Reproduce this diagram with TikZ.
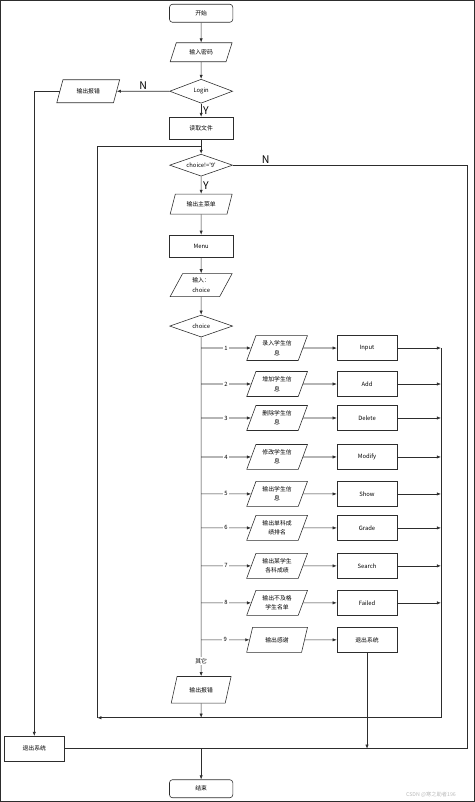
\documentclass[tikz,border=0pt]{standalone}
\usepackage{fontspec}
\setmainfont{Noto Sans CJK SC}
\usepackage{tikz}
\usetikzlibrary{arrows.meta,shapes.geometric}
\definecolor{LineaGris}{RGB}{45,45,45}

\begin{document}
\begin{tikzpicture}[x=0.03cm,y=-0.03cm,>={Latex[length=3.5pt,width=2.8pt]},
  every path/.style={draw=LineaGris,line width=0.5pt},
  every node/.style={font=\fontsize{5}{8}\selectfont,align=center,inner sep=1pt},
  term/.style={draw,rounded corners=2.5pt,minimum width=1.9cm,minimum height=0.54cm},
  proc/.style={draw,minimum width=1.92cm,minimum height=0.66cm},
  procb/.style={draw,minimum width=1.8cm,minimum height=0.75cm},
  io/.style={draw,trapezium,trapezium left angle=68,trapezium right angle=112,
    trapezium stretches=true,minimum width=1.86cm,minimum height=0.57cm},
  iob/.style={io,minimum width=1.83cm,minimum height=0.75cm},
  dec/.style={draw,diamond,aspect=2.8,inner sep=0pt,minimum width=1.89cm,minimum height=0.66cm},
  yn/.style={font=\fontsize{9}{10}\selectfont,inner sep=1pt},
  num/.style={fill=white,inner sep=1.5pt}]
  \useasboundingbox (0,0) rectangle (474,802);

  \node[term] (start) at (201,13) {开始};
  \node[io] (pwd) at (201,52) {输入密码};
  \node[dec,minimum height=0.72cm] (login) at (201,91) {Login};
  \node[io,minimum width=1.89cm,minimum height=0.69cm] (err1) at (88,91) {输出报错};
  \node[proc] (read) at (201,128) {读取文件};
  \node[dec] (loopq) at (201,165) {choice!=\textquotesingle 9\textquotesingle};
  \node[io,minimum height=0.6cm] (menuout) at (201,204) {输出主菜单};
  \node[proc] (menu) at (201,246) {Menu};
  \node[io,minimum height=0.69cm] (inchoice) at (201,285) {输入：\\choice};
  \node[dec] (choice) at (201,326) {choice};
  \node[io,minimum width=1.8cm,minimum height=0.8cm] (err2) at (201,690) {输出报错};
  \node[procb] (quit) at (34,749) {退出系统};
  \node[term] (end) at (201,789) {结束};

  \coordinate (jn) at (201,146);
  \coordinate (lt) at (97,146);
  \coordinate (lb) at (97,718);
  \coordinate (cb) at (441,718);
  \coordinate (eb) at (201,718);
  \coordinate (rt) at (467,165);
  \coordinate (rb) at (467,749);
  \coordinate (xb) at (367,749);
  \coordinate (mb) at (201,749);

  \draw[->] (start) -- (pwd);
  \draw[->] (pwd) -- (login);
  \draw[->] (login) -- node[yn,right,xshift=0.5pt]{Y} (read);
  \draw[->] (login.west) -- node[yn,above]{N} (err1.east);
  \draw[->] (err1.west) -| (quit.north);
  \draw (read.south) -- (jn);
  \draw[->] (jn) -- (loopq.north);
  \draw[->] (loopq) -- node[yn,right,xshift=0.5pt]{Y} (menuout);
  \draw[->] (menuout) -- (menu);
  \draw[->] (menu) -- (inchoice);
  \draw[->] (inchoice) -- (choice);
  \draw[->] (choice.south) -- node[pos=0.955,fill=white]{其它} (err2.north);

  \foreach \i/\y/\t/\f in {1/348/{录入学生信\\息}/Input,2/384/{增加学生信\\息}/Add,
      3/418/{删除学生信\\息}/Delete,4/457/{修改学生信\\息}/Modify,
      5/494/{输出学生信\\息}/Show,6/528/{输出单科成\\绩排名}/Grade,
      7/566/{输出某学生\\各科成绩}/Search,8/603/{输出不及格\\学生名单}/Failed}{
    \coordinate (s\i) at (201,\y);
    \node[iob] (p\i) at (277,\y) {\t};
    \node[procb] (r\i) at (367,\y) {\f};
    \coordinate (e\i) at (441,\y);
    \draw[->] (s\i) -- node[num]{\i} (p\i);
    \draw[->] (p\i) -- (r\i);
    \draw[->] (r\i) -- (e\i);
  }
  \coordinate (s9) at (201,640);
  \node[iob] (p9) at (277,640) {输出感谢};
  \node[procb] (r9) at (367,640) {退出系统};
  \draw[->] (s9) -- node[num]{9} (p9);
  \draw[->] (p9) -- (r9);

  \draw (e1) -- (cb);
  \draw[->] (cb) -- (lb);
  \draw (lb) -- (lt) -- (jn);
  \draw[->] (err2.south) -- (eb);
  \draw (loopq.east) -- node[yn,above,pos=0.14]{N} (rt) -- (rb) -- (quit.east);
  \draw[->] (r9.south) -- (xb);
  \draw[->] (mb) -- (end.north);

  \node[text=gray!55,font=\fontsize{4.5}{5}\selectfont] (mark) at (431,795) {CSDN @寒之助者196};
\end{tikzpicture}
\end{document}
